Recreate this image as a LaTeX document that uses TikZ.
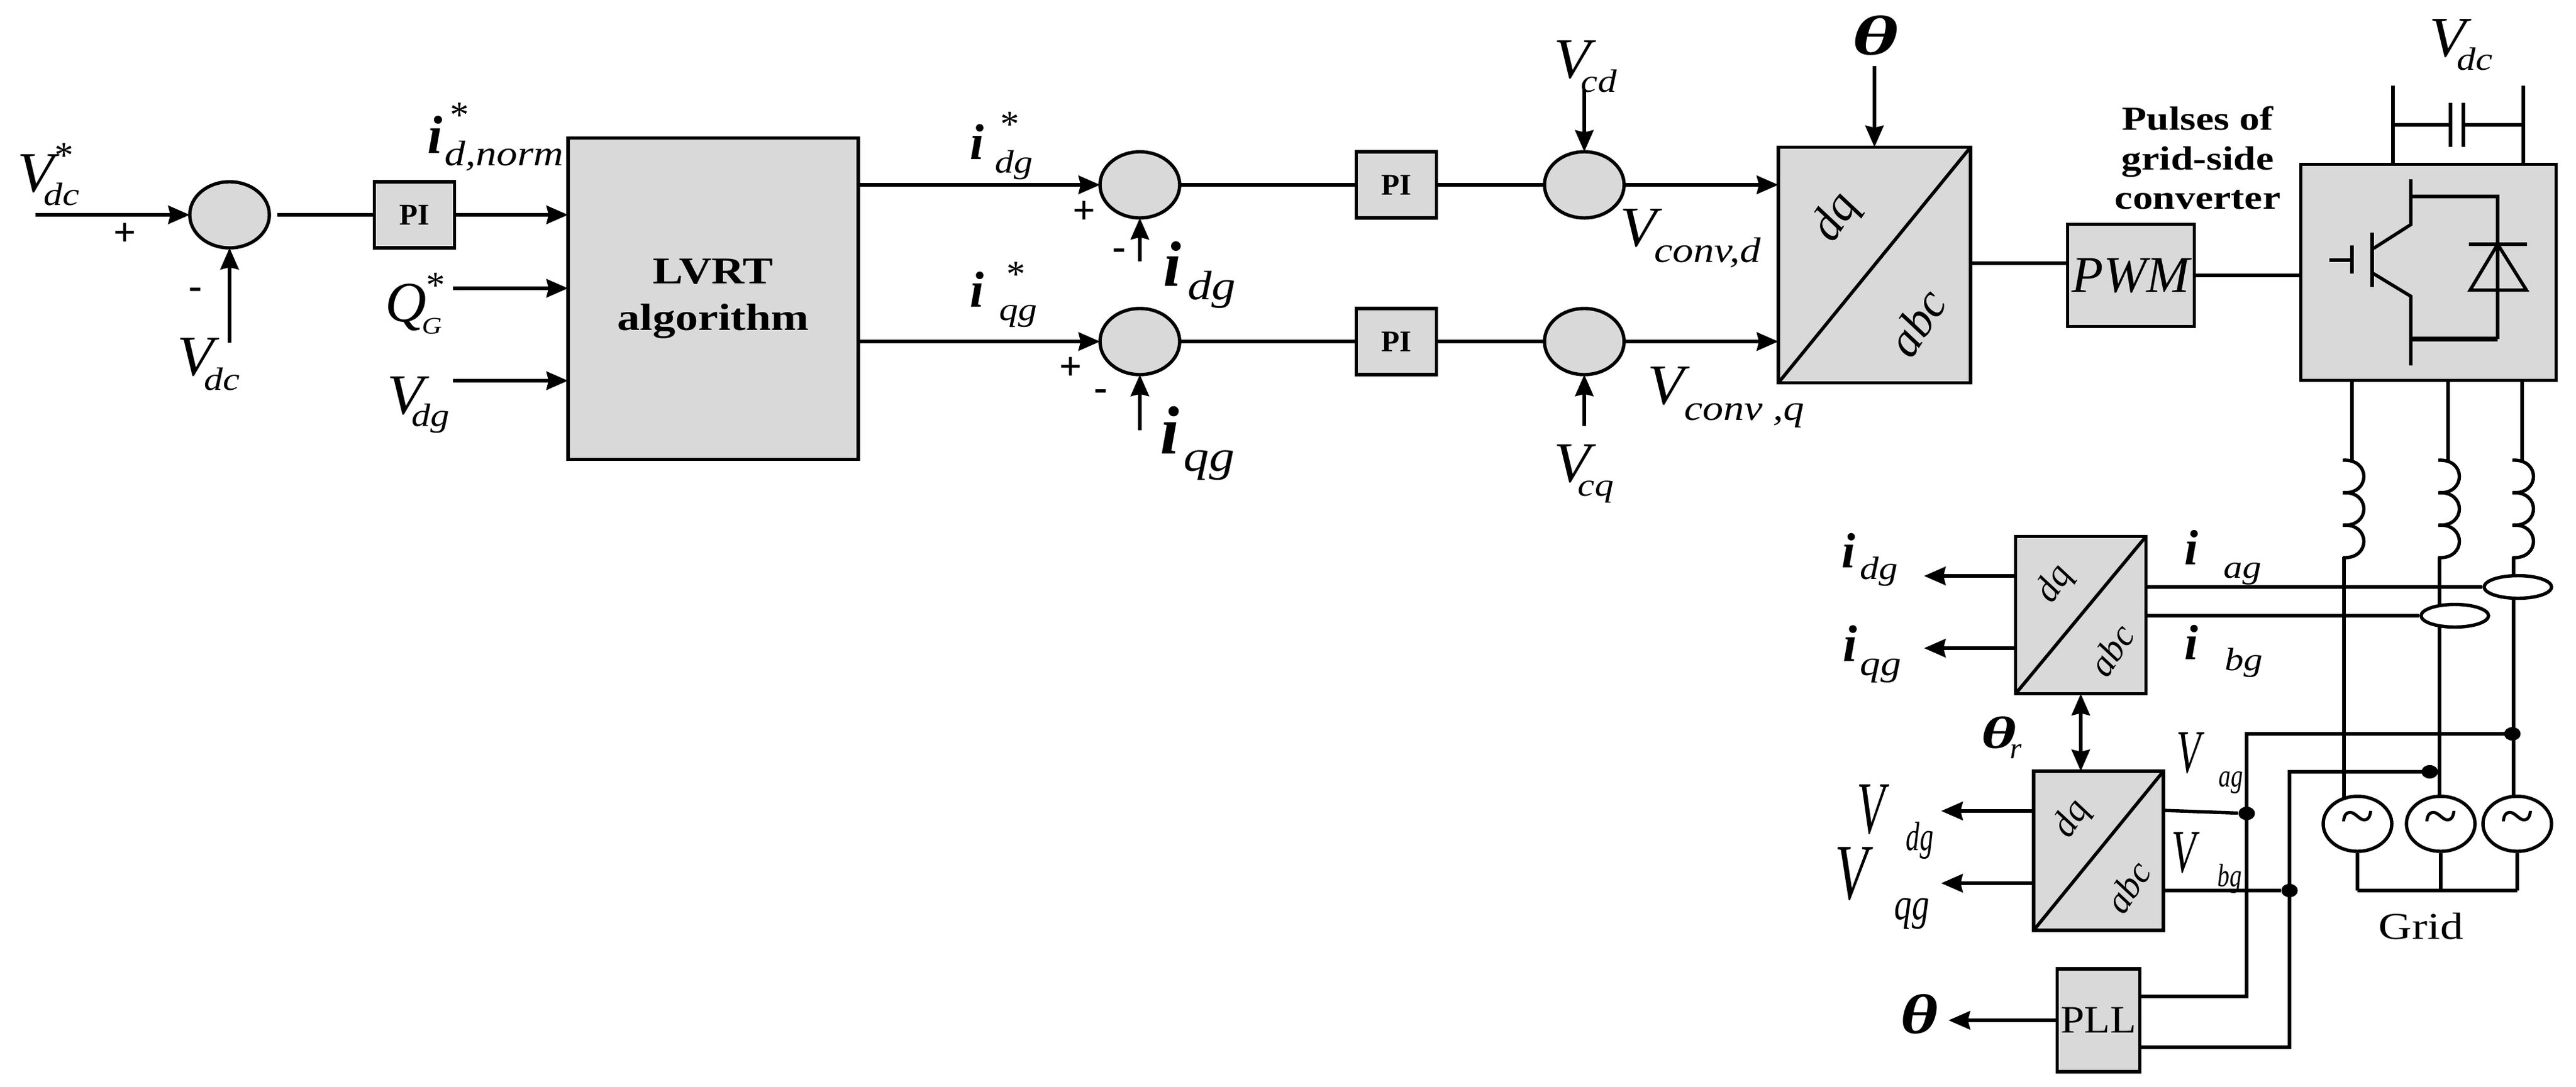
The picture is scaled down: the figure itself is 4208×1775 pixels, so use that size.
\documentclass[tikz,border=0pt]{standalone}
\usepackage{fontspec}
\setmainfont{Liberation Serif}
\usetikzlibrary{arrows.meta}
\usetikzlibrary{shapes.geometric}
\definecolor{blockgray}{HTML}{D9D9D9}
\tikzset{
    >={Stealth[length=10pt,width=8.5pt,inset=1pt]}
}
\tikzset{
  sig/.style = {line width=1.55pt},
  heavy/.style = {line width=2.1pt},
  block/.style = {draw, sig, fill=blockgray, inner sep=0pt, outer sep=0pt},
  sumnode/.style = {block, ellipse, minimum width=1.3cm, minimum height=1.08cm},
  pi/.style = {block, minimum width=1.31cm, minimum height=1.08cm, font=\fontsize{14}{16}\selectfont\bfseries},
  sensor/.style = {draw, sig, fill=white, ellipse, inner sep=0pt, minimum width=1.1cm, minimum height=.37cm},
  source/.style = {draw, sig, fill=white, ellipse, inner sep=0pt, minimum width=1.12cm, minimum height=.9cm, font=\fontsize{29}{30}\selectfont},
  dot/.style = {fill=black, ellipse, inner sep=0pt, minimum width=.27cm, minimum height=.22cm},
  lab/.style = {anchor=base west, inner sep=0pt, font=\fontsize{26.5}{30}\selectfont\itshape},
  labb/.style = {lab, font=\fontsize{26.5}{30}\selectfont\bfseries\itshape},
  sign/.style = {inner sep=0pt, font=\fontsize{18.5}{20}\selectfont\bfseries},
  parkbig/.style = {inner sep=0pt, rotate=57, font=\fontsize{22}{24}\selectfont\itshape},
  parksmall/.style = {inner sep=0pt, rotate=57, font=\fontsize{17}{19}\selectfont\itshape},
}
\newcommand{\lbl}[5][26.5]{\rlap{\fontsize{#1}{30}\selectfont #2}\hspace{#4cm}\raisebox{-#5cm}{\fontsize{15}{18}\selectfont\mdseries\wide{1.17}{#3}}}
\newcommand{\starmark}[2]{\rlap{\hspace{#1cm}\raisebox{#2cm}{\fontsize{17.5}{20}\selectfont\mdseries *}}}
\newcommand{\wide}[2]{\scalebox{#1}[1]{#2}}
\newcommand{\vv}{\wide{1.05}{V}}
\newcommand{\coil}[1]{\draw[sig] (#1,752) .. controls +(46,-3) and +(46,3) .. ++(0,53)
  .. controls +(46,-3) and +(46,3) .. ++(0,53) .. controls +(46,-3) and +(46,3) .. ++(0,53);}

\begin{document}
\begin{tikzpicture}[x=.01cm,y=-.01cm]
\useasboundingbox (0,0) rectangle (4208,1775);

% The blocks
\node[sumnode] (sumdc) at (375,351) {};
\node[pi] (pidc) at (677,351) {PI};
\node[block, minimum width=4.74cm, minimum height=5.25cm, align=center,
  font=\fontsize{17.6}{21.5}\selectfont\bfseries] (lvrt) at (1165,488) {\wide{1.2}{LVRT}\\\wide{1.2}{algorithm}};
\node[sumnode] (sumd) at (1862,302) {};
\node[sumnode] (sumq) at (1862,558) {};
\node[pi] (pid) at (2281,302) {PI};
\node[pi] (piq) at (2281,558) {PI};
\node[sumnode] (sumcd) at (2588,302) {};
\node[sumnode] (sumcq) at (2588,558) {};
\node[block, minimum width=3.14cm, minimum height=3.85cm] (park) at (3062,433) {};
\node[block, minimum width=2.07cm, minimum height=1.67cm, font=\fontsize{24}{26}\selectfont\itshape] (pwm) at (3481,450) {PWM};
\node[block, minimum width=4.17cm, minimum height=3.53cm] (conv) at (3967,445) {};
\node[block, minimum width=2.13cm, minimum height=2.57cm] (parki) at (3399,1005) {};
\node[block, minimum width=2.12cm, minimum height=2.6cm] (parkv) at (3428,1390) {};
\node[block, minimum width=1.35cm, minimum height=1.68cm, font=\fontsize{18}{20}\selectfont] (pll) at (3428,1667) {\wide{1.1}{PLL}};

% Location of the free ends
\coordinate (vdcin) at (58,351);
\coordinate (sumout) at (453,351);
\coordinate (vdcfb) at (375,560);
\coordinate (qin) at (740,471);
\coordinate (vin) at (740,622);
\coordinate (idfb) at (1862,427);
\coordinate (iqfb) at (1862,703);
\coordinate (vcd) at (2588,146);
\coordinate (vcq) at (2588,696);
\coordinate (thin) at (3062,108);
\coordinate (pwmin) at (3378,430);
\coordinate (iaout) at (3143,941);
\coordinate (ibout) at (3143,1059);
\coordinate (vdout) at (3171,1325);
\coordinate (vqout) at (3171,1443);
\coordinate (thout) at (3183,1667);
\coordinate (vaout) at (3534,1324);
\coordinate (wa) at (3670,1628);
\coordinate (wb) at (3740,1711);
\coordinate (tapb) at (3985,1261);

% Control path
\draw[sig,->] (vdcin) -- (sumdc.west);
\draw[sig] (sumout) -- (pidc.west);
\draw[sig,->] (pidc.east) -- (pidc.east -| lvrt.west);
\draw[sig,->] (vdcfb) -- (sumdc.south);
\draw[sig,->] (qin) -- (qin -| lvrt.west);
\draw[sig,->] (vin) -- (vin -| lvrt.west);
\draw[sig,->] (sumd.west -| lvrt.east) -- (sumd.west);
\draw[sig,->] (sumq.west -| lvrt.east) -- (sumq.west);
\draw[sig,->] (idfb) -- (sumd.south);
\draw[sig,->] (iqfb) -- (sumq.south);
\draw[sig] (sumd) -- (pid);
\draw[sig] (sumq) -- (piq);
\draw[sig] (pid) -- (sumcd);
\draw[sig] (piq) -- (sumcq);
\draw[sig,->] (vcd) -- (sumcd.north);
\draw[sig,->] (vcq) -- (sumcq.south);
\draw[sig,->] (sumcd.east) -- (sumcd.east -| park.west);
\draw[sig,->] (sumcq.east) -- (sumcq.east -| park.west);
\draw[sig,->] (thin) -- (park.north);
\draw[sig] (pwmin -| park.east) -- (pwmin);
\draw[sig] (pwm.east) -- (pwm.east -| conv.west);

% dq/abc blocks
\draw[sig] (park.south west) -- (park.north east);
\node[parkbig] (parkd) at (3000,356) {dq};
\node[parkbig] (parka) at (3131,527) {abc};
\draw[sig] (parki.south west) -- (parki.north east);
\node[parksmall] (parkid) at (3357,955) {dq};
\node[parksmall] (parkia) at (3449,1062) {abc};
\draw[sig] (parkv.south west) -- (parkv.north east);
\node[parksmall] (parkvd) at (3385,1339) {dq};
\node[parksmall] (parkva) at (3476,1449) {abc};

% The switch
\draw[sig] (3938,293) -- (3938,367) -- (3877,406);
\draw[sig] (3875,380) -- (3875,469);
\draw[sig] (3842,401) -- (3842,447);
\draw[sig] (3805,425) -- (3842,425);
\draw[sig] (3877,447) -- (3938,484) -- (3938,597);
\draw[sig] (3938,321) -- (4080,321) -- (4080,554);
\draw[heavy] (4080,554) -- (3938,554);
\draw[sig] (4033,399) -- (4128,399);
\draw[sig] (4080,399) -- (4035,474) -- (4127,474) -- cycle;

% The capacitor
\draw[sig] (3909,140) -- (3909,269);
\draw[sig] (4122,140) -- (4122,269);
\draw[sig] (3909,204) -- (4003,204);
\draw[sig] (4024,204) -- (4122,204);
\draw[sig] (4003,168) -- (4003,240);
\draw[sig] (4024,168) -- (4024,240);

% The phases
\draw[sig] (3842,622) -- (3842,752);
\draw[sig] (3999,622) -- (3999,752);
\draw[sig] (4120,622) -- (4120,752);
\coil{3827}
\coil{3983}
\coil{4104}
\draw[sig] (3829,910) -- (3829,1310);
\draw[sig] (3985,910) -- (3985,1310);
\draw[sig] (4106,910) -- (4106,1310);

\node[sensor] (cta) at (4113,959) {};
\node[sensor] (ctb) at (4010,1006) {};
\node[source] (srca) at (3851,1346) {\textasciitilde};
\node[source] (srcb) at (3987,1346) {\textasciitilde};
\node[source] (srcc) at (4112,1346) {\textasciitilde};
\coordinate (busl) at (3851,1455);
\coordinate (busr) at (4112,1455);
\draw[sig] (srca.south) -- (busl);
\draw[sig] (srcb.south) -- (srcb.south |- busl);
\draw[sig] (srcc.south) -- (busr);
\draw[sig] (busl) -- (busr);

% The measurements
\draw[sig] (cta.west -| parki.east) -- (cta.west);
\draw[sig] (ctb.west -| parki.east) -- (ctb.west);
\draw[sig,->] (iaout -| parki.west) -- (iaout);
\draw[sig,->] (ibout -| parki.west) -- (ibout);
\draw[sig,<->] (parki.south) -- (parki.south |- parkv.north);
\draw[sig,->] (vdout -| parkv.west) -- (vdout);
\draw[sig,->] (vqout -| parkv.west) -- (vqout);
\draw[sig,->] (pll.west) -- (thout);

\node[dot] (dota) at (4104,1199) {};
\node[dot] (dotb) at (3969,1261) {};
\node[dot] (dotc) at (3670,1329) {};
\node[dot] (dotd) at (3740,1455) {};
\draw[sig] (dota.center) -| (wa) -- (wa -| pll.east);
\draw[sig] (tapb) -| (wb) -- (wb -| pll.east);
\draw[sig] (vaout) -- (dotc);
\draw[sig] (dotd -| parkv.east) -- (dotd);

% Signs
\node[sign] (p1) at (204,383) {+};
\node[sign] (m1) at (319,479) {-};
\node[sign] (p2) at (1771,347) {+};
\node[sign] (m2) at (1828,415) {-};
\node[sign] (p3) at (1749,602) {+};
\node[sign] (m3) at (1798,645) {-};

% Labels
\node[lab] (lvdcs) at (28,313) {\starmark{.58}{.38}\lbl{\vv}{dc}{.43}{.22}};
\node[lab] (lvdc) at (289,613) {\lbl{\vv}{dc}{.44}{.24}};
\node[labb] (lnorm) at (698,250) {\starmark{.34}{.41}\lbl[25]{i}{\fontsize{16.5}{18}\selectfont d,norm}{.28}{.20}};
\node[lab] (lq) at (629,525) {\starmark{.64}{.38}\lbl{Q}{\fontsize{11}{12}\selectfont G}{.60}{.20}};
\node[lab] (lvdg) at (632,676) {\lbl{\vv}{dg}{.40}{.20}};
\node[labb] (lids) at (1584,260) {\starmark{.47}{.36}\lbl[23.5]{i}{dg}{.41}{.22}};
\node[labb] (liqs) at (1584,501) {\starmark{.57}{.32}\lbl[23.5]{i}{qg}{.48}{.22}};
\node[labb,scale=1.27] (lid) at (1900,467) {\lbl[23.5]{i}{dg}{.31}{.18}};
\node[labb,scale=1.35] (liq) at (1895,741) {\lbl[23.5]{i}{qg}{.28}{.21}};
\node[lab] (lvcd) at (2538,127) {\lbl{\vv}{cd}{.44}{.23}};
\node[lab] (lvcq) at (2538,787) {\lbl{\vv}{cq}{.39}{.23}};
\node[lab] (lvcvd) at (2646,402) {\lbl{\vv}{\fontsize{16.5}{18}\selectfont conv,d}{.56}{.26}};
\node[lab] (lvcvq) at (2691,660) {\lbl{\vv}{\fontsize{16.5}{18}\selectfont conv ,q}{.60}{.26}};
\node[lab,xscale=1.6,font=\fontsize{26}{28}\selectfont\bfseries\itshape] (lth) at (3024,89) {θ};
\node[lab] (lvdct) at (3968,92) {\lbl{\vv}{dc}{.45}{.22}};
\node[inner sep=0pt, align=center, font=\fontsize{15.6}{18.4}\selectfont\bfseries] (lpulse) at (3590,258) {\wide{1.2}{Pulses of}\\\wide{1.2}{grid-side}\\\wide{1.2}{converter}};
\node[labb] (lidr) at (3008,927) {\lbl[23]{i}{dg}{.30}{.19}};
\node[labb] (liqr) at (3010,1080) {\lbl[24]{i}{\fontsize{16.3}{18}\selectfont qg}{.28}{.23}};
\node[labb] (liag) at (3568,922) {\lbl[23]{i}{ag}{.64}{.22}};
\node[labb] (libg) at (3568,1077) {\lbl[23]{i}{bg}{.66}{.18}};
\node[lab,font=\fontsize{21}{24}\selectfont\bfseries\itshape] (lthr) at (3236,1222) {\rlap{\wide{1.5}{θ}}\hspace{.47cm}\raisebox{-.17cm}{\fontsize{14}{16}\selectfont\mdseries r}};
\node[lab] (lvag) at (3555,1262) {\lbl[28.5]{\wide{.65}{V}}{\wide{.64}{ag}}{.69}{.23}};
\node[lab] (lvbg) at (3547,1425) {\lbl[28.5]{\wide{.65}{V}}{\wide{.64}{bg}}{.75}{.23}};
\node[lab] (lvdl) at (3033,1361) {\lbl[34.5]{\wide{.62}{V}}{\fontsize{19}{20}\selectfont\wide{.57}{dg}}{.80}{.28}};
\node[lab] (lvql) at (2997,1469) {\lbl[37]{\wide{.68}{V}}{\fontsize{21}{22}\selectfont\wide{.66}{qg}}{.97}{.33}};
\node[lab,xscale=1.3,font=\fontsize{26}{28}\selectfont\bfseries\itshape] (lthp) at (3104,1688) {θ};
\node[anchor=base west, inner sep=0pt, xscale=1.22, font=\fontsize{17.6}{20}\selectfont] (lgrid) at (3885,1534) {Grid};
\end{tikzpicture}
\end{document}
